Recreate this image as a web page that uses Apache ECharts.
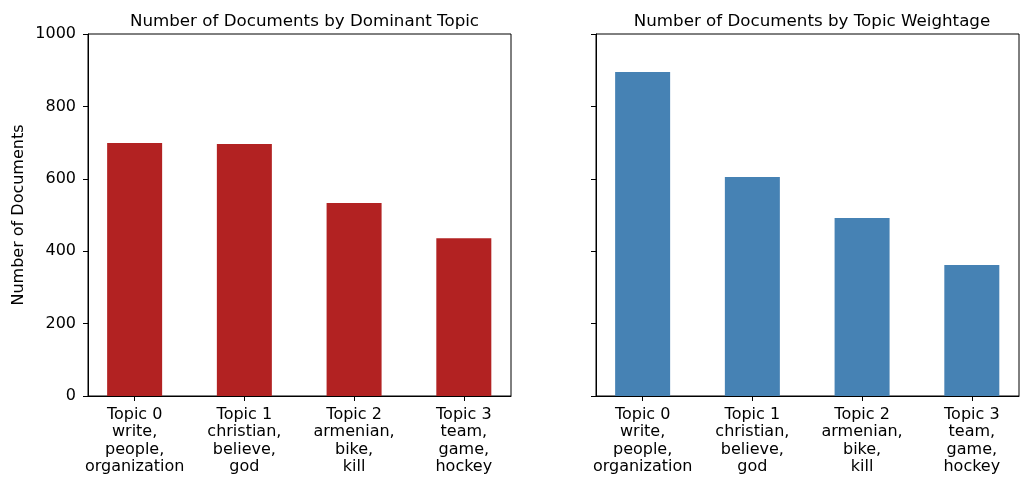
<!DOCTYPE html>
<html><head><meta charset="utf-8">
<script src="https://cdn.jsdelivr.net/npm/echarts@6/dist/echarts.min.js"></script>
<style>html,body{margin:0;padding:0;background:#fff}#c{width:1033px;height:487px}</style>
</head><body><div id="c"></div>
<script>
const categories = ["Topic 0\nwrite,\npeople,\norganization","Topic 1\nchristian,\nbelieve,\ngod","Topic 2\narmenian,\nbike,\nkill","Topic 3\nteam,\ngame,\nhockey"];
const dominantCounts = [699, 696, 533, 436];
const weightageCounts = [895, 605, 492, 362];
const yTicks = [0, 200, 400, 600, 800, 1000];
const titles = ["Number of Documents by Dominant Topic", "Number of Documents by Topic Weightage"];
const yName = "Number of Documents";

const FONT = "DejaVu Sans";
const FS = 16;
const chart = echarts.init(document.getElementById('c'), null, {renderer:'canvas'});
const idx = categories.map((_, i) => i);
function xAxis(gi){
  return {
    type:'value', gridIndex:gi, min:-0.425, max:3.43,
    axisLine:{show:true, onZero:false, lineStyle:{color:'#000', width:1}},
    axisTick:{show:true, length:5, lineStyle:{color:'#000'}, customValues: idx},
    axisLabel:{show:true, customValues: idx, formatter:v => categories[Math.round(v)],
      color:'#000', fontFamily:FONT, fontSize:FS, lineHeight:17.5, margin:10, align:'center'},
    splitLine:{show:false}
  };
}
function yAxis(gi, showLabels){
  return {
    type:'value', gridIndex:gi, min:0, max:1000, interval:200,
    name: showLabels ? yName : '', nameLocation:'middle', nameGap:61,
    nameTextStyle:{color:'#000', fontFamily:FONT, fontSize:FS},
    axisLine:{show:true, onZero:false, lineStyle:{color:'#000', width:1}},
    axisTick:{show:true, length:5, lineStyle:{color:'#000'}, customValues: yTicks},
    axisLabel:{show:showLabels, customValues: yTicks, formatter: v => String(v),
      color:'#000', fontFamily:FONT, fontSize:FS, margin:12},
    splitLine:{show:false}
  };
}
chart.setOption({
  animation:false,
  backgroundColor:'#fff',
  title: [
    {text:titles[0], left:299.5, top:8, textAlign:'center', textStyle:{color:'#000', fontFamily:FONT, fontSize:16.7, fontWeight:'normal'}},
    {text:titles[1], left:807, top:8, textAlign:'center', textStyle:{color:'#000', fontFamily:FONT, fontSize:16.7, fontWeight:'normal'}}
  ],
  grid: [
    {left:88, top:34, width:423, height:362, show:true, borderColor:'#000', borderWidth:1, containLabel:false},
    {left:596, top:34, width:423, height:362, show:true, borderColor:'#000', borderWidth:1, containLabel:false}
  ],
  xAxis:[xAxis(0), xAxis(1)],
  yAxis:[yAxis(0,true), yAxis(1,false)],
  series:[
    {type:'bar', xAxisIndex:0, yAxisIndex:0, barWidth:55, itemStyle:{color:'#b22222'},
      data: dominantCounts.map((v,i)=>[i,v])},
    {type:'bar', xAxisIndex:1, yAxisIndex:1, barWidth:55, itemStyle:{color:'#4682b4'},
      data: weightageCounts.map((v,i)=>[i,v])}
  ]
});
</script></body></html>
